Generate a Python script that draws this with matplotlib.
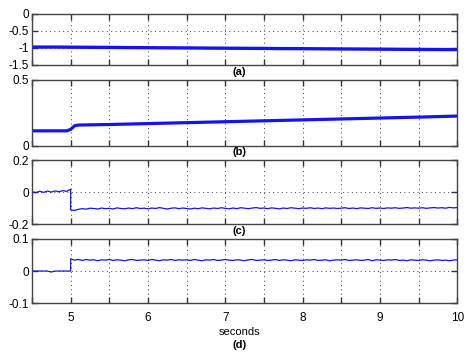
import matplotlib
matplotlib.use("Agg")
import matplotlib.pyplot as plt
import numpy as np

# ---- data ----
# panel (a): slow drift, sampled every 0.25 s
t_a = [4.5, 4.75, 5.0, 5.25, 5.5, 5.75, 6.0, 6.25, 6.5, 6.75, 7.0, 7.25,
       7.5, 7.75, 8.0, 8.25, 8.5, 8.75, 9.0, 9.25, 9.5, 9.75, 10.0]
val_a = [-0.975, -0.975, -0.978, -0.982, -0.985, -0.99, -0.993, -0.997, -1.0,
         -1.005, -1.008, -1.012, -1.015, -1.02, -1.022, -1.026, -1.03, -1.033,
         -1.036, -1.04, -1.043, -1.047, -1.05]

# panel (b): step at 5 s then a slow ramp
t_b = [4.5, 4.95, 5.0, 5.05, 5.1, 5.5, 6.0, 6.5, 7.0, 7.5, 8.0, 8.5, 9.0, 9.5, 10.0]
val_b = [0.114, 0.114, 0.125, 0.152, 0.158, 0.162, 0.169, 0.176, 0.183, 0.19,
         0.197, 0.204, 0.211, 0.218, 0.226]

# panels (c) and (d): noisy traces, 0.05 s samples
t_pre = [4.5, 4.55, 4.6, 4.65, 4.7, 4.75, 4.8, 4.85, 4.9, 4.95, 5.0]
c_pre = [0.002, -0.004, 0.005, -0.002, 0.006, 0.0, 0.007, 0.002, 0.009, 0.004, 0.018]
d_pre = [0.0, 0.0, 0.0, 0.0, 0.0, -0.003, 0.0, 0.0, 0.0, 0.0, 0.0]

c_post = [-0.112, -0.115, -0.108, -0.104, -0.107, -0.101, -0.103, -0.106, -0.100, -0.104,
          -0.102, -0.106, -0.099, -0.103, -0.105, -0.100, -0.104, -0.098, -0.103, -0.101,
          -0.105, -0.100, -0.103, -0.097, -0.102, -0.106, -0.101, -0.099, -0.104, -0.100,
          -0.103, -0.106, -0.101, -0.104, -0.099, -0.102, -0.105, -0.100, -0.103, -0.098,
          -0.102, -0.105, -0.100, -0.104, -0.098, -0.101, -0.104, -0.100, -0.097, -0.102,
          -0.100, -0.104, -0.099, -0.102, -0.105, -0.100, -0.103, -0.098, -0.101, -0.104,
          -0.100, -0.102, -0.098, -0.103, -0.100, -0.104, -0.099, -0.102, -0.100, -0.103,
          -0.101, -0.098, -0.103, -0.100, -0.104, -0.099, -0.101, -0.103, -0.098, -0.102,
          -0.100, -0.103, -0.099, -0.101, -0.098, -0.102, -0.100, -0.097, -0.101, -0.099,
          -0.101, -0.098, -0.102, -0.099, -0.097, -0.100, -0.098, -0.101, -0.096, -0.099,
          -0.097]
d_post = [0.038, 0.034, 0.036, 0.033, 0.036, 0.034, 0.035, 0.032, 0.035, 0.034,
          0.036, 0.033, 0.035, 0.034, 0.032, 0.035, 0.036, 0.033, 0.034, 0.035,
          0.033, 0.036, 0.034, 0.032, 0.035, 0.034, 0.036, 0.033, 0.035, 0.034,
          0.035, 0.033, 0.036, 0.034, 0.032, 0.035, 0.034, 0.036, 0.033, 0.034,
          0.036, 0.034, 0.033, 0.035, 0.034, 0.032, 0.035, 0.036, 0.033, 0.034,
          0.035, 0.033, 0.034, 0.036, 0.033, 0.035, 0.034, 0.032, 0.035, 0.034,
          0.033, 0.035, 0.034, 0.036, 0.033, 0.034, 0.035, 0.032, 0.034, 0.035,
          0.034, 0.036, 0.033, 0.034, 0.035, 0.033, 0.034, 0.036, 0.032, 0.035,
          0.034, 0.033, 0.035, 0.034, 0.036, 0.033, 0.034, 0.032, 0.035, 0.034,
          0.033, 0.035, 0.034, 0.032, 0.034, 0.035, 0.033, 0.034, 0.032, 0.034,
          0.035]
t_post = list(np.round(np.arange(5.0, 10.0001, 0.05), 2))

yticks_a = [-1.5, -1, -0.5, 0]
yticks_b = [0, 0.5]
yticks_c = [-0.2, 0, 0.2]
yticks_d = [-0.1, 0, 0.1]
panel_labels = ["(a)", "(b)", "(c)", "(d)"]
x_label = "seconds"

plt.rcParams['font.family'] = ['Liberation Sans Narrow', 'Liberation Sans', 'DejaVu Sans']

fig = plt.figure(figsize=(4.74, 3.55), dpi=100)
left, width = 0.0675, 0.897
ax_a = fig.add_axes([left, 0.817, width, 0.144])
ax_b = fig.add_axes([left, 0.589, width, 0.186])
ax_c = fig.add_axes([left, 0.369, width, 0.180])
ax_d = fig.add_axes([left, 0.146, width, 0.181])

blue = '#1414f0'
ax_a.plot(t_a, val_a, color=blue, lw=2.4, solid_capstyle='butt')
ax_b.plot(t_b, val_b, color=blue, lw=2.3, solid_capstyle='butt')
ax_c.plot(t_pre + t_post, c_pre + c_post, color=blue, lw=0.9)
ax_d.plot(t_pre + t_post, d_pre + d_post, color=blue, lw=0.9)

xticks = list(np.arange(4.5, 10.01, 0.5))
for ax, yt, lab in zip([ax_a, ax_b, ax_c, ax_d],
                       [yticks_a, yticks_b, yticks_c, yticks_d], panel_labels):
    ax.set_xlim(4.5, 10)
    ax.set_ylim(yt[0], yt[-1])
    ax.set_yticks(yt)
    ax.set_yticklabels([f"{v:g}" for v in yt])
    ax.set_xticks(xticks)
    ax.set_xticklabels([])
    ax.grid(True, linestyle=(0, (1, 3.5)), color='#444444', lw=0.7)
    ax.tick_params(direction='in', top=True, right=True, length=4, width=1,
                   colors='#333333', labelcolor='black', labelsize=8.5, pad=2)
    for s in ax.spines.values():
        s.set_color('#444444')
        s.set_linewidth(1.0)

ax_d.set_xticklabels([f"{v:g}" if float(v).is_integer() else "" for v in xticks])
ax_d.tick_params(axis='x', pad=6)

fig.text(0.505, 1 - 72 / 355, panel_labels[0], ha='center', va='center', fontsize=8, fontweight='bold')
fig.text(0.505, 1 - 152 / 355, panel_labels[1], ha='center', va='center', fontsize=8, fontweight='bold')
fig.text(0.505, 1 - 231 / 355, panel_labels[2], ha='center', va='center', fontsize=8, fontweight='bold')
fig.text(0.505, 1 - 332 / 355, x_label, ha='center', va='center', fontsize=8)
fig.text(0.505, 1 - 345 / 355, panel_labels[3], ha='center', va='center', fontsize=8, fontweight='bold')

fig.savefig("out.png", dpi=100)
